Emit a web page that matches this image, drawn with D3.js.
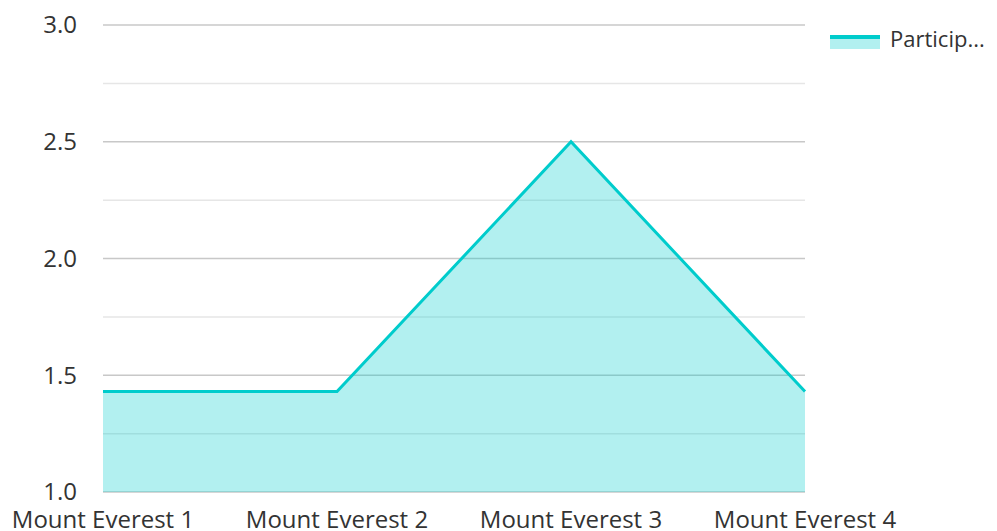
<!DOCTYPE html>
<html>
<head>
<meta charset="utf-8">
<script src="https://cdn.jsdelivr.net/npm/d3@7"></script>
<style>
  body { margin: 0; background: #fff; overflow: hidden; }
  text { font-family: "Open Sans", sans-serif; fill: #333; }
</style>
</head>
<body>
<svg id="chart" width="997" height="531"></svg>
<script>
var categories = ["Mount Everest 1", "Mount Everest 2", "Mount Everest 3", "Mount Everest 4"]
var participants = [1.43, 1.43, 2.5, 1.43]
var yTicks = [1.0, 1.5, 2.0, 2.5, 3.0]
var minorTicks = [1.25, 1.75, 2.25, 2.75]
var seriesName = "Particip..."

var svg = d3.select("#chart")

var x = d3.scalePoint()
    .domain(categories)
    .range([103, 805])

var y = d3.scaleLinear()
    .domain([1, 3])
    .range([492, 25])

// grid lines
svg.selectAll("line.minor")
    .data(minorTicks)
    .enter()
    .append("line")
    .attr("class", "minor")
    .attr("x1", 103).attr("x2", 805)
    .attr("y1", function(d) { return y(d) })
    .attr("y2", function(d) { return y(d) })
    .attr("stroke", "#e6e6e6")
    .attr("stroke-width", 1.5)

svg.selectAll("line.major")
    .data(yTicks)
    .enter()
    .append("line")
    .attr("class", "major")
    .attr("x1", 103).attr("x2", 805)
    .attr("y1", function(d) { return y(d) })
    .attr("y2", function(d) { return y(d) })
    .attr("stroke", "#c8c8c8")
    .attr("stroke-width", 1.5)

// y labels
svg.selectAll("text.ytick")
    .data(yTicks)
    .enter()
    .append("text")
    .attr("class", "ytick")
    .attr("x", 77)
    .attr("y", function(d) { return y(d) })
    .attr("dy", "0.35em")
    .attr("text-anchor", "end")
    .attr("font-size", 24)
    .text(function(d) { return d.toFixed(1) })

// x labels
svg.selectAll("text.xtick")
    .data(categories)
    .enter()
    .append("text")
    .attr("class", "xtick")
    .attr("x", function(d) { return x(d) })
    .attr("y", 528)
    .attr("text-anchor", "middle")
    .attr("font-size", 24)
    .text(function(d) { return d })

var pts = categories.map(function(c, i) { return [c, participants[i]] })

var area = d3.area()
    .x(function(d) { return x(d[0]) })
    .y0(y(1))
    .y1(function(d) { return y(d[1]) })

var line = d3.line()
    .x(function(d) { return x(d[0]) })
    .y(function(d) { return y(d[1]) })

svg.append("path")
    .datum(pts)
    .attr("d", area)
    .attr("fill", "#00cccc")
    .attr("fill-opacity", 0.3)

svg.append("path")
    .datum(pts)
    .attr("d", line)
    .attr("fill", "none")
    .attr("stroke", "#00cccc")
    .attr("stroke-width", 3)

// legend
var legend = svg.append("g").attr("transform", "translate(830,35)")
legend.append("rect")
    .attr("x", 0).attr("y", 0)
    .attr("width", 50).attr("height", 14)
    .attr("fill", "#00cccc")
    .attr("fill-opacity", 0.3)
legend.append("rect")
    .attr("x", 0).attr("y", 0)
    .attr("width", 50).attr("height", 4)
    .attr("fill", "#00cccc")
legend.append("text")
    .attr("x", 60)
    .attr("y", 12)
    .attr("font-size", 22)
    .text(seriesName)
</script>
</body>
</html>
